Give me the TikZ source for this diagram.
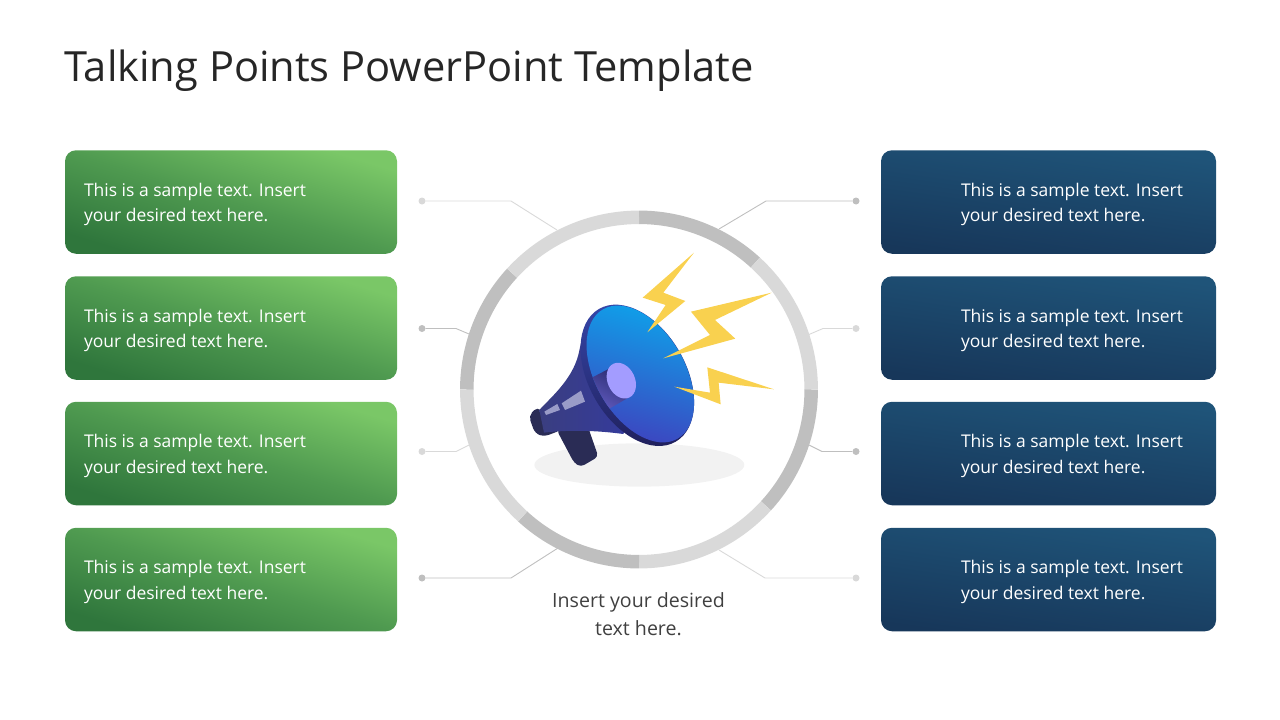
\documentclass[tikz,border=0pt]{standalone}
\usepackage{fontspec}
\setmainfont{Open Sans}
\usetikzlibrary{positioning}
\definecolor{TitleInk}{HTML}{262626}
\definecolor{CaptionInk}{HTML}{404040}
\definecolor{GreenLow}{HTML}{2F763C}
\definecolor{GreenMid}{HTML}{4F9A50}
\definecolor{GreenHigh}{HTML}{7AC767}
\definecolor{BlueLow}{HTML}{17375A}
\definecolor{BlueHigh}{HTML}{1F5479}
\definecolor{SegDark}{HTML}{BFBFBF}
\definecolor{SegLight}{HTML}{D9D9D9}
\definecolor{Bolt}{HTML}{F9D14F}
\definecolor{Navy}{HTML}{2A2C55}
\definecolor{HornLow}{HTML}{3A3E80}
\definecolor{HornHigh}{HTML}{343AA0}
\definecolor{RimHigh}{HTML}{3646AA}
\definecolor{RimLow}{HTML}{20205C}
\definecolor{FaceHigh}{HTML}{0EA2EA}
\definecolor{FaceLow}{HTML}{3E42BE}
\definecolor{StemLow}{HTML}{282A6E}
\definecolor{StemHigh}{HTML}{605ABE}
\definecolor{CapTop}{HTML}{A39CFF}
\definecolor{Grille}{HTML}{9A9CC8}
\tikzset{
  boxtext/.style={text=white,align=left,inner sep=0pt,yshift=-2.5pt,font=\fontsize{17.5}{25.3}\selectfont},
  greenbox/.style={rounded corners=11pt,minimum width=332pt,minimum height=103.5pt,inner sep=0pt,
    bottom color=GreenLow,top color=GreenHigh,middle color=GreenMid,shading angle=-17},
  bluebox/.style={rounded corners=11pt,minimum width=335pt,minimum height=103.5pt,inner sep=0pt,
    bottom color=BlueLow,top color=BlueHigh,shading angle=-8},
  leaderdot/.style={circle,fill=#1,minimum size=7pt,inner sep=0pt},
}
\newcommand{\drawringseg}[3]{% Parameters: color, start angle, end angle
  \draw[#1,line width=13.5pt] (639,-389.5) ++(#2:172.2) arc[start angle=#2,end angle=#3,radius=172.2];
}
\newcommand{\drawleader}[6]{% Parameters: color, name, dot x, dot y, bend x, end x/y
  \node (dot#2) [leaderdot=#1] at (#3,-#4) {};
  \coordinate (bend#2) at (#5,-#4);
  \coordinate (end#2) at (#6);
  \draw[#1,line width=0.9pt] (dot#2) -- (bend#2) -- (end#2);
}
\begin{document}
\begin{tikzpicture}[x=1pt,y=1pt]
  \useasboundingbox (0,0) rectangle (1280,-720);
  \node (title) [anchor=west,inner sep=0pt,text=TitleInk,font=\fontsize{41.6}{50}\selectfont] at (64,-71) {Talking Points PowerPoint Template};
  % boxes
  \foreach \n/\y in {1/202,2/328,3/453.5,4/579.5}{
    \node (greenbox\n) [greenbox] at (231,-\y) {};
    \node (greentext\n) [boxtext,anchor=west,right=19pt of greenbox\n.west] {This is a sample text. Insert\\your desired text here.};
    \node (bluebox\n) [bluebox] at (1048.5,-\y) {};
    \node (bluetext\n) [boxtext,anchor=west,right=80pt of bluebox\n.west] {This is a sample text. Insert\\your desired text here.};
  }
  % leaders
  \drawleader{SegLight}{lefta}{422}{201}{511}{557,-230}
  \drawleader{SegDark}{leftb}{422}{328.5}{456}{469,-334}
  \drawleader{SegLight}{leftc}{422}{451.5}{456}{469,-445}
  \drawleader{SegDark}{leftd}{422}{578}{511}{558,-548}
  \drawleader{SegDark}{righta}{856}{201}{766}{719,-229}
  \drawleader{SegLight}{rightb}{856}{328.5}{823}{809,-334.5}
  \drawleader{SegDark}{rightc}{856}{451.5}{822}{809,-445}
  \drawleader{SegLight}{rightd}{856}{578}{765}{719,-550}
  % ring
  \drawringseg{SegDark}{90}{47.5}
  \drawringseg{SegLight}{47.5}{0}
  \drawringseg{SegDark}{0}{-42.5}
  \drawringseg{SegLight}{-42.5}{-90}
  \drawringseg{SegDark}{-90}{-132.5}
  \drawringseg{SegLight}{-132.5}{-180}
  \drawringseg{SegDark}{180}{137.5}
  \drawringseg{SegLight}{137.5}{90}
  \node (caption) [align=center,inner sep=0pt,text=CaptionInk,font=\fontsize{19.6}{28}\selectfont] at (638.5,-614) {Insert your desired\\text here.};
  % megaphone, coordinates in 3x crop pixels
  \begin{scope}[shift={(500,-230)},x=0.3333pt,y=-0.3333pt]
    \fill[black!5] (418,705) ellipse[x radius=315,y radius=65];
    \fill[Navy,rounded corners=4pt] (170,600) -- (262,585) -- (295,680) -- (242,711) -- (222,698) -- cycle;
    \fill[Navy,rounded corners=5pt] (112,530) -- (86,558) -- (105,610) -- (132,620) -- (185,600) -- cycle;
    \shade[left color=HornLow,right color=HornHigh]
      (118,540) .. controls (155,500) and (215,450) .. (235,375) .. controls (245,330) and (250,300) .. (280,260)
      -- (420,500) -- (370,612) .. controls (280,600) and (200,600) .. (132,608) -- cycle;
    \fill[Grille] (185,520) -- (243,482) -- (255,515) -- (195,540) -- cycle;
    \fill[Grille] (133,545) -- (172,522) -- (180,540) -- (138,555) -- cycle;
    % dish rim
    \begin{scope}
      \clip (412,436) [rotate around={-60:(412,436)}] ellipse[x radius=230,y radius=145];
      \shade[top color=RimHigh,bottom color=RimLow] (230,215) rectangle (600,655);
    \end{scope}
    % dish face
    \begin{scope}
      \clip (421,432) [rotate around={-60:(421,432)}] ellipse[x radius=224,y radius=134];
      \shade[top color=FaceHigh,bottom color=FaceLow,shading angle=-15] (230,215) rectangle (600,650);
      \shade[left color=StemLow,right color=StemHigh,shading angle=-30]
        (272,445) -- (335,412) -- (390,500) -- (318,542) -- cycle;
    \end{scope}
    \fill[CapTop] (364,452) [rotate around={-65:(364,452)}] ellipse[x radius=56,y radius=41];
    % bolts
    \fill[Bolt] (582,68) -- (428,203) -- (497,225) -- (442,307) -- (556,213) -- (490,188) -- cycle;
    \fill[Bolt] (815,188) -- (573,245) -- (630,315) -- (490,385) -- (706,326) -- (645,270) -- cycle;
    \fill[Bolt] (822,478) -- (622,412) -- (630,488) -- (523,470) -- (662,523) -- (656,458) -- cycle;
  \end{scope}
\end{tikzpicture}
\end{document}
